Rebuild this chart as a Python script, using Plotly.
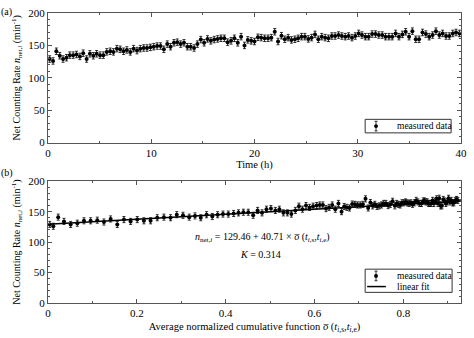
import plotly.graph_objects as go

# ---- data ----
time_h = [0.16, 0.49, 0.81, 1.14, 1.46, 1.79, 2.11, 2.44, 2.76, 3.09,
          3.41, 3.74, 4.06, 4.39, 4.71, 5.04, 5.36, 5.69, 6.02, 6.34,
          6.67, 6.99, 7.32, 7.64, 7.97, 8.29, 8.62, 8.94, 9.27, 9.59,
          9.92, 10.24, 10.57, 10.90, 11.22, 11.55, 11.87, 12.20, 12.52, 12.85,
          13.17, 13.50, 13.82, 14.15, 14.47, 14.80, 15.12, 15.45, 15.77, 16.10,
          16.43, 16.75, 17.08, 17.40, 17.73, 18.05, 18.38, 18.70, 19.03, 19.35,
          19.68, 20.00, 20.33, 20.65, 20.98, 21.31, 21.63, 21.96, 22.28, 22.61,
          22.93, 23.26, 23.58, 23.91, 24.23, 24.56, 24.88, 25.21, 25.53, 25.86,
          26.18, 26.51, 26.84, 27.16, 27.49, 27.81, 28.14, 28.46, 28.79, 29.11,
          29.44, 29.76, 30.09, 30.41, 30.74, 31.06, 31.39, 31.72, 32.04, 32.37,
          32.69, 33.02, 33.34, 33.67, 33.99, 34.32, 34.64, 34.97, 35.29, 35.62,
          35.94, 36.27, 36.60, 36.92, 37.25, 37.57, 37.90, 38.22, 38.55, 38.87,
          39.20, 39.52, 39.85]

o_bar = [0.004, 0.012, 0.023, 0.036, 0.051, 0.066, 0.081, 0.096, 0.111, 0.126,
         0.141, 0.156, 0.171, 0.186, 0.201, 0.216, 0.231, 0.246, 0.261, 0.276,
         0.290, 0.304, 0.318, 0.331, 0.344, 0.357, 0.370, 0.382, 0.394, 0.406,
         0.418, 0.429, 0.440, 0.451, 0.462, 0.472, 0.482, 0.492, 0.502, 0.512,
         0.521, 0.530, 0.539, 0.548, 0.557, 0.565, 0.573, 0.581, 0.589, 0.597,
         0.605, 0.612, 0.619, 0.626, 0.633, 0.640, 0.647, 0.654, 0.661, 0.667,
         0.673, 0.679, 0.685, 0.691, 0.697, 0.703, 0.709, 0.715, 0.721, 0.726,
         0.731, 0.736, 0.741, 0.746, 0.751, 0.756, 0.761, 0.766, 0.771, 0.776,
         0.781, 0.785, 0.789, 0.793, 0.797, 0.801, 0.805, 0.809, 0.813, 0.817,
         0.821, 0.825, 0.829, 0.833, 0.837, 0.841, 0.845, 0.848, 0.851, 0.854,
         0.857, 0.860, 0.863, 0.866, 0.869, 0.872, 0.875, 0.878, 0.881, 0.884,
         0.887, 0.890, 0.893, 0.896, 0.899, 0.902, 0.905, 0.908, 0.911, 0.914,
         0.917, 0.920, 0.923]

net_rate = [129, 126, 141, 134, 129, 131, 135, 135, 136, 133,
            138, 129, 137, 134, 137, 135, 135, 140, 141, 140,
            145, 144, 141, 143, 140, 145, 142, 145, 146, 146,
            147, 148, 149, 149, 144, 152, 148, 154, 155, 152,
            154, 148, 148, 146, 152, 159, 154, 160, 157, 159,
            160, 161, 161, 155, 157, 161, 154, 163.5, 150, 158.5,
            157, 156, 162.5, 162, 161, 161, 162, 171, 156, 165,
            159.5, 162, 158.5, 159.5, 161, 163.5, 163.5, 160, 162, 167,
            159.5, 163.5, 162, 161, 164.5, 164.5, 166, 164.5, 163.5, 164.5,
            162, 164.5, 168.5, 166, 163.5, 163.5, 167.5, 167.5, 166, 166,
            163.5, 163.5, 163.5, 168.5, 163.5, 167, 171, 163.5, 172, 159.5,
            159.5, 170, 167.5, 163.5, 166, 172, 166, 168.5, 164.5, 164.5,
            168.5, 170, 168.5]

rate_err = [5.0] * len(net_rate)

fit_intercept = 129.46
fit_slope = 40.71
fit_x = [0.0, 0.93]
fit_y = [fit_intercept + fit_slope * v for v in fit_x]

legend_a_labels = ["measured data"]
legend_b_labels = ["measured data", "linear fit"]

FONT = "Liberation Serif"
BLACK = "#000000"
AX = "#555555"

# figure geometry (pixels) used to convert legend pixel positions to paper coords
W, H = 474, 338
ML, MR, MT, MB = 48, 8, 7, 31
PW, PH = W - ML - MR, H - MT - MB


def px(xp):
    return (xp - ML) / PW


def py(yp):
    return (H - MB - yp) / PH


fig = go.Figure()

fig.add_trace(go.Scatter(
    x=time_h, y=net_rate, mode="markers", name="measured data",
    marker=dict(color=BLACK, size=4, symbol="circle"),
    error_y=dict(type="data", array=rate_err, visible=True, color=BLACK,
                 thickness=0.8, width=1.5),
    xaxis="x", yaxis="y", showlegend=False))

fig.add_trace(go.Scatter(
    x=o_bar, y=net_rate, mode="markers", name="measured data",
    marker=dict(color=BLACK, size=4, symbol="circle"),
    error_y=dict(type="data", array=rate_err, visible=True, color=BLACK,
                 thickness=0.8, width=1.5),
    xaxis="x2", yaxis="y2", showlegend=False))

fig.add_trace(go.Scatter(
    x=fit_x, y=fit_y, mode="lines", name="linear fit",
    line=dict(color=BLACK, width=1.5),
    xaxis="x2", yaxis="y2", showlegend=False))

ytitle = "Net Counting Rate <i>n</i><sub>net,<i>i</i></sub> (min<sup>-1</sup>)"

axis_common = dict(
    showline=True, linecolor=AX, linewidth=1, mirror="allticks",
    ticks="inside", ticklen=4, tickcolor=AX, tickwidth=1,
    showgrid=False, zeroline=False,
    tickfont=dict(family=FONT, size=11, color=BLACK),
)

fig.update_layout(
    width=W, height=H,
    margin=dict(l=ML, r=MR, t=MT, b=MB),
    paper_bgcolor="white", plot_bgcolor="white",
    font=dict(family=FONT, size=10, color=BLACK),
    showlegend=False,
    xaxis=dict(domain=[0, 1], anchor="y", range=[0, 40], dtick=10,
               minor=dict(ticks="inside", ticklen=2, dtick=5, tickcolor=AX),
               title=dict(text="Time (h)", standoff=2,
                          font=dict(family=FONT, size=10.5)),
               **axis_common),
    yaxis=dict(domain=[0.553, 1], anchor="x", range=[0, 200], dtick=50,
               minor=dict(ticks="inside", ticklen=2, dtick=10, tickcolor=AX),
               title=dict(text=ytitle, standoff=5,
                          font=dict(family=FONT, size=10)),
               **axis_common),
    xaxis2=dict(domain=[0, 1], anchor="y2", range=[0, 0.93], dtick=0.2,
                minor=dict(ticks="inside", ticklen=2, dtick=0.1, tickcolor=AX),
                tickformat=".1~f",
                title=dict(text="Average normalized cumulative function <i>o\u0305</i> (<i>t</i><sub><i>i</i>,s</sub>,<i>t</i><sub><i>i</i>,e</sub>)",
                           standoff=4, font=dict(family=FONT, size=10.5)),
                **axis_common),
    yaxis2=dict(domain=[0, 0.42], anchor="x2", range=[0, 200], dtick=50,
                minor=dict(ticks="inside", ticklen=2, dtick=10, tickcolor=AX),
                title=dict(text=ytitle, standoff=5,
                           font=dict(family=FONT, size=10)),
                **axis_common),
)

# ---- hand-built compact legends (paper coordinates) ----
LEG_LINE = dict(color="#333333", width=1)


def errbar_symbol(xc, yc):
    # vertical bar with caps plus dot, mimicking an error-bar marker
    fig.add_shape(type="line", xref="paper", yref="paper",
                  x0=px(xc), x1=px(xc), y0=py(yc - 5), y1=py(yc + 5),
                  line=dict(color=BLACK, width=0.8))
    for d in (-5, 5):
        fig.add_shape(type="line", xref="paper", yref="paper",
                      x0=px(xc - 1.5), x1=px(xc + 1.5), y0=py(yc + d), y1=py(yc + d),
                      line=dict(color=BLACK, width=0.8))
    fig.add_shape(type="circle", xref="paper", yref="paper",
                  x0=px(xc - 2), x1=px(xc + 2), y0=py(yc + 2), y1=py(yc - 2),
                  fillcolor=BLACK, line=dict(color=BLACK, width=0))


def legend_text(txt, xl, yc):
    fig.add_annotation(text=txt, xref="paper", yref="paper", x=px(xl), y=py(yc),
                       xanchor="left", yanchor="middle", showarrow=False,
                       font=dict(family=FONT, size=9.5, color=BLACK))


# legend (a)
fig.add_shape(type="rect", xref="paper", yref="paper",
              x0=px(369), x1=px(456), y0=py(131), y1=py(117),
              line=LEG_LINE, fillcolor="white")
errbar_symbol(380, 124)
legend_text(legend_a_labels[0], 399, 124)

# legend (b)
fig.add_shape(type="rect", xref="paper", yref="paper",
              x0=px(369), x1=px(457), y0=py(296), y1=py(272),
              line=LEG_LINE, fillcolor="white")
errbar_symbol(380, 279)
legend_text(legend_b_labels[0], 399, 279)
fig.add_shape(type="line", xref="paper", yref="paper",
              x0=px(371), x1=px(390), y0=py(290), y1=py(290),
              line=dict(color=BLACK, width=1.5))
legend_text(legend_b_labels[1], 399, 290)

fig.add_annotation(text="(a)", xref="paper", yref="paper", x=-0.1, y=1.005,
                   xanchor="center", yanchor="middle", showarrow=False,
                   font=dict(family=FONT, size=10))
fig.add_annotation(text="(b)", xref="paper", yref="paper", x=-0.1, y=0.447,
                   xanchor="center", yanchor="middle", showarrow=False,
                   font=dict(family=FONT, size=10))
fig.add_annotation(text="<i>n</i><sub>net,<i>i</i></sub> = 129.46 + 40.71 × <i>o\u0305</i> (<i>t</i><sub><i>i</i>,s</sub>,<i>t</i><sub><i>i</i>,e</sub>)",
                   xref="x2", yref="y2", x=0.327, y=108, xanchor="left",
                   yanchor="middle", showarrow=False,
                   font=dict(family=FONT, size=10))
fig.add_annotation(text="<i>K</i> = 0.314",
                   xref="x2", yref="y2", x=0.427, y=80, xanchor="left",
                   yanchor="middle", showarrow=False,
                   font=dict(family=FONT, size=10))

fig.write_html("out.html")
